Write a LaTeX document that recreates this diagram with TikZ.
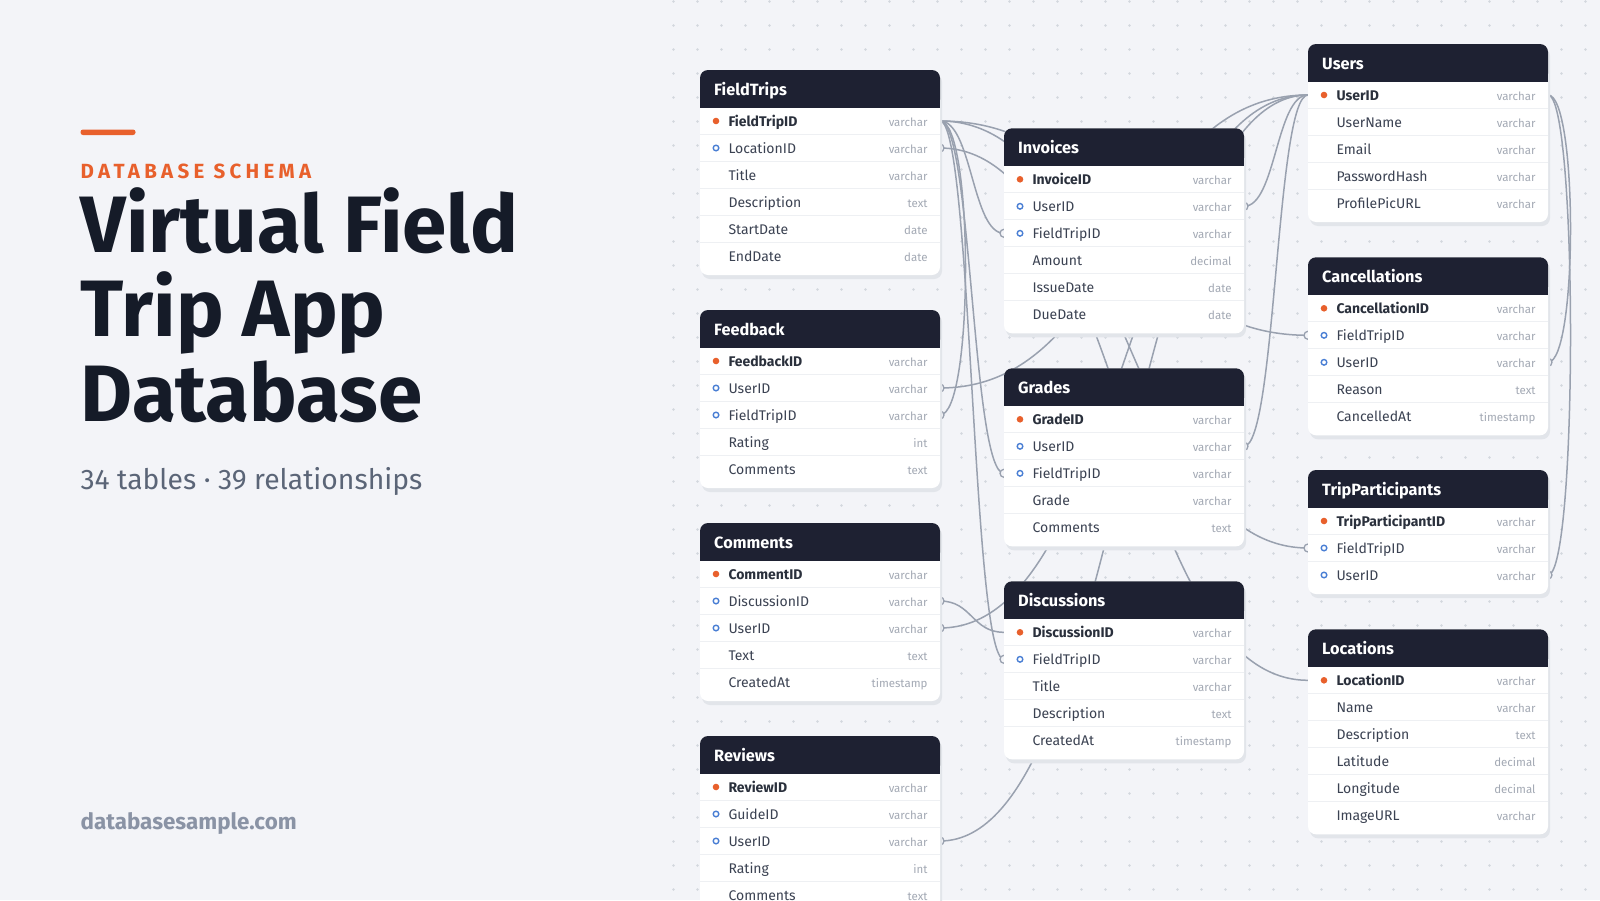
\documentclass[tikz,border=0pt]{standalone}
\usepackage{fontspec}
\setmainfont{Fira Sans}
\usetikzlibrary{calc}
\definecolor{bgc}{HTML}{F3F4F8}
\definecolor{dotc}{HTML}{D3D7DE}
\definecolor{headc}{HTML}{1E2132}
\definecolor{shadc}{HTML}{E2E5EA}
\definecolor{sepc}{HTML}{EEF0F3}
\definecolor{pkc}{HTML}{E8602C}
\definecolor{fkc}{HTML}{4A7FD4}
\definecolor{namec}{HTML}{3B4252}
\definecolor{pknamec}{HTML}{2A303C}
\definecolor{typec}{HTML}{A3A9B4}
\definecolor{connc}{HTML}{99A1AF}
\definecolor{titlec}{HTML}{151B28}
\definecolor{subc}{HTML}{5B6577}
\definecolor{urlc}{HTML}{8A93A5}
\pgfdeclarelayer{dots}
\pgfdeclarelayer{links}
\pgfsetlayers{dots,links,main}
\tikzset{
  hdr/.style={anchor=base west, inner sep=0, text=white, font=\fontsize{16.3}{18}\selectfont\bfseries},
  rowtxt/.style={anchor=base west, inner sep=0, text=namec, font=\fontsize{14}{16}\selectfont},
  pkname/.style={anchor=base west, inner sep=0, text=pknamec, font=\fontsize{14}{16}\selectfont\bfseries},
  typ/.style={anchor=base east, inner sep=0, text=typec, font=\fontsize{11.5}{13}\selectfont},
  conn/.style={draw=connc, line width=1.5pt},
  fkmark/.style={draw=connc, fill=bgc, line width=1.3pt},
  sepline/.style={draw=sepc, line width=1pt}
}
\newcommand\dbtable[4]{%
  \begin{scope}[shift={#2}]
    \foreach \k/\f/\t [count=\i] in {#4} {\xdef\nrows{\i}}%
    \pgfmathsetmacro\tblh{43+27*\nrows}%
    \fill[shadc, rounded corners=8] (2,4) rectangle (242,\tblh+4);
    \fill[white, rounded corners=8] (0,0) rectangle (240,\tblh);
    \fill[headc, rounded corners=8] (0,0) rectangle (240,37.5);
    \fill[headc] (0,20) rectangle (240,37.5);
    \node[hdr] (#1) at (14,25) {#3};
    \foreach \k/\f/\t [count=\i] in {#4} {
      \pgfmathsetmacro\yc{37.5+27*\i-13.5}
      \ifnum\i<\nrows \draw[sepline] (0,37.5+27*\i) -- (240,37.5+27*\i); \fi
      \coordinate (#1-\f-l) at (0,\yc);
      \coordinate (#1-\f-r) at (240,\yc);
      \ifnum\k=1
        \fill[pkc] (16,\yc) circle (3.3);
        \node[pkname] (#1-\f) at (28.3,\yc+5) {\f};
      \else
        \ifnum\k=2
          \draw[fkc, line width=1.4pt] (16,\yc) circle (2.8);
        \fi
        \node[rowtxt] (#1-\f) at (28.3,\yc+5) {\f};
      \fi
      \node[typ] (#1-\f-t) at (227.7,\yc+5) {\t};
    }
  \end{scope}}
\newcommand\rel[2]{%
  \path ($(#1)!0.5!(#2)$) coordinate (mid);
  \draw[conn] (#1) .. controls (#1 -| mid) and (#2 -| mid) .. (#2);}
\newcommand\loopr[3]{%
  \draw[conn] (#1) .. controls ($(#1)+(#3,0)$) and ($(#2)+(#3,0)$) .. (#2);}
\newcommand\fkend[1]{\filldraw[fkmark] (#1) circle (4);}
\begin{document}
\begin{tikzpicture}[x=1pt,y=-1pt]
\useasboundingbox (0,0) rectangle (1600,900);
\begin{pgfonlayer}{dots}
  \fill[bgc] (0,0) rectangle (1600,900);
  \foreach \i in {28,...,66} \foreach \j in {0,...,37}
    \fill[dotc] (24*\i+1.5,24*\j+1.5) circle (1.3);
\end{pgfonlayer}

% left panel
\fill[pkc, rounded corners=2.5] (80.5,129.5) rectangle (135.5,135);
\node[anchor=base west, inner sep=0, text=pkc, font=\fontsize{20.5}{22}\selectfont\bfseries\addfontfeature{LetterSpace=21}] (kicker) at (80.5,178.6) {DATABASE SCHEMA};
\node[anchor=base west, inner sep=0, text=titlec, font=\fontsize{80}{84}\selectfont\bfseries] (t1) at (80.5,252) {Virtual Field};
\node[anchor=base west, inner sep=0, text=titlec, font=\fontsize{80}{84}\selectfont\bfseries] (t2) at (80.5,336.7) {Trip App};
\node[anchor=base west, inner sep=0, text=titlec, font=\fontsize{80}{84}\selectfont\bfseries] (t3) at (80.5,421.4) {Database};
\node[anchor=base west, inner sep=0, text=subc, font=\fontsize{28.3}{30}\selectfont] (stats) at (80.5,489.8) {34 tables · 39 relationships};
\node[anchor=base west, inner sep=0, text=urlc, font=\fontsize{22.4}{24}\selectfont\bfseries] (url) at (80.5,829.6) {databasesample.com};

% tables
\dbtable{ft}{(700,70)}{FieldTrips}{1/FieldTripID/varchar,2/LocationID/varchar,0/Title/varchar,0/Description/text,0/StartDate/date,0/EndDate/date}
\dbtable{fb}{(700,310)}{Feedback}{1/FeedbackID/varchar,2/UserID/varchar,2/FieldTripID/varchar,0/Rating/int,0/Comments/text}
\dbtable{com}{(700,523)}{Comments}{1/CommentID/varchar,2/DiscussionID/varchar,2/UserID/varchar,0/Text/text,0/CreatedAt/timestamp}
\dbtable{rev}{(700,736)}{Reviews}{1/ReviewID/varchar,2/GuideID/varchar,2/UserID/varchar,0/Rating/int,0/Comments/text}
\dbtable{inv}{(1004,128.3)}{Invoices}{1/InvoiceID/varchar,2/UserID/varchar,2/FieldTripID/varchar,0/Amount/decimal,0/IssueDate/date,0/DueDate/date}
\dbtable{gr}{(1004,368.3)}{Grades}{1/GradeID/varchar,2/UserID/varchar,2/FieldTripID/varchar,0/Grade/varchar,0/Comments/text}
\dbtable{disc}{(1004,581.3)}{Discussions}{1/DiscussionID/varchar,2/FieldTripID/varchar,0/Title/varchar,0/Description/text,0/CreatedAt/timestamp}
\dbtable{us}{(1308,44)}{Users}{1/UserID/varchar,0/UserName/varchar,0/Email/varchar,0/PasswordHash/varchar,0/ProfilePicURL/varchar}
\dbtable{can}{(1308,257.3)}{Cancellations}{1/CancellationID/varchar,2/FieldTripID/varchar,2/UserID/varchar,0/Reason/text,0/CancelledAt/timestamp}
\dbtable{tp}{(1308,470)}{TripParticipants}{1/TripParticipantID/varchar,2/FieldTripID/varchar,2/UserID/varchar}
\dbtable{loc}{(1308,629.3)}{Locations}{1/LocationID/varchar,0/Name/varchar,0/Description/text,0/Latitude/decimal,0/Longitude/decimal,0/ImageURL/varchar}

% relationships
\begin{pgfonlayer}{links}
  \rel{ft-FieldTripID-r}{inv-FieldTripID-l}
  \rel{ft-FieldTripID-r}{gr-FieldTripID-l}
  \rel{ft-FieldTripID-r}{disc-FieldTripID-l}
  \loopr{ft-FieldTripID-r}{fb-FieldTripID-r}{34}
  \rel{ft-FieldTripID-r}{can-FieldTripID-l}
  \rel{ft-FieldTripID-r}{tp-FieldTripID-l}
  \rel{ft-LocationID-r}{loc-LocationID-l}
  \rel{inv-UserID-r}{us-UserID-l}
  \rel{gr-UserID-r}{us-UserID-l}
  \rel{fb-UserID-r}{us-UserID-l}
  \rel{com-UserID-r}{us-UserID-l}
  \rel{rev-UserID-r}{us-UserID-l}
  \rel{com-DiscussionID-r}{disc-DiscussionID-l}
  \loopr{us-UserID-r}{can-UserID-r}{30}
  \loopr{us-UserID-r}{tp-UserID-r}{30}
  \fkend{ft-LocationID-r}
  \fkend{inv-UserID-r}
  \fkend{inv-FieldTripID-l}
  \fkend{gr-UserID-r}
  \fkend{gr-FieldTripID-l}
  \fkend{disc-FieldTripID-l}
  \fkend{fb-UserID-r}
  \fkend{fb-FieldTripID-r}
  \fkend{com-UserID-r}
  \fkend{com-DiscussionID-r}
  \fkend{rev-UserID-r}
  \fkend{can-FieldTripID-l}
  \fkend{can-UserID-r}
  \fkend{tp-FieldTripID-l}
  \fkend{tp-UserID-r}
\end{pgfonlayer}
\end{tikzpicture}
\end{document}
